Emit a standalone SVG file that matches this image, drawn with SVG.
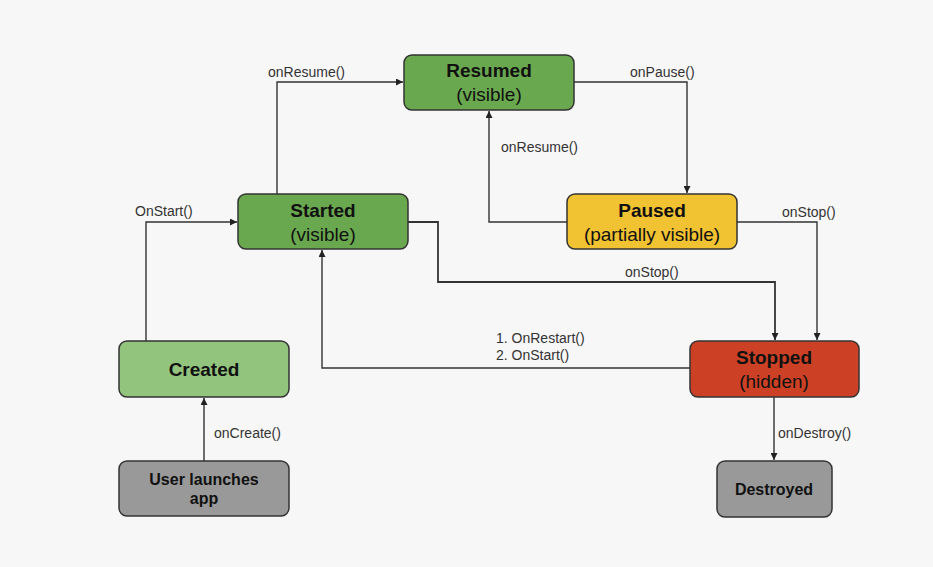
<svg xmlns="http://www.w3.org/2000/svg" width="933" height="567" viewBox="0 0 933 567">
<defs>
<marker id="arr" viewBox="0 0 10 10" refX="10" refY="5" markerWidth="7" markerHeight="7" markerUnits="userSpaceOnUse" orient="auto">
<path d="M0,0 L10,5 L0,10 z" fill="#222"/>
</marker>
<style>
.node{stroke:#333;stroke-width:1.5}
.t{font-family:"Liberation Sans",Arial,sans-serif;font-size:19px;fill:#111;text-anchor:middle}
.b{font-weight:bold}
.s{font-size:16px}
.lbl{font-family:"Liberation Sans",Arial,sans-serif;font-size:14px;fill:#333}
.c{fill:none;stroke:#333;stroke-width:1.4;marker-end:url(#arr)}
</style>
</defs>
<rect width="933" height="567" fill="#f7f7f7"/>
<g id="connectors">
<path class="c" d="M277,194 V82 H403"/>
<path class="c" d="M574,82 H687 V193"/>
<path class="c" d="M567,222 H489 V111"/>
<path class="c" d="M737,222 H817 V340"/>
<path class="c" d="M407,222 H438 V282 H775 V340" style="stroke-width:1.8"/>
<path class="c" d="M690,368 H322 V250"/>
<path class="c" d="M146,341 V222 H237"/>
<path class="c" d="M204,461 V398"/>
<path class="c" d="M774,397 V460"/>
<text class="lbl" x="268" y="77">onResume()</text>
<text class="lbl" x="630" y="77">onPause()</text>
<text class="lbl" x="501" y="152">onResume()</text>
<text class="lbl" x="782" y="217">onStop()</text>
<text class="lbl" x="625" y="277">onStop()</text>
<text class="lbl" x="496" y="343">1. OnRestart()</text>
<text class="lbl" x="496" y="360">2. OnStart()</text>
<text class="lbl" x="135" y="216">OnStart()</text>
<text class="lbl" x="214" y="438">onCreate()</text>
<text class="lbl" x="778" y="438">onDestroy()</text>
</g>
<g id="resumed">
<rect class="node" x="404" y="55" width="170" height="55" rx="8" fill="#6aa84f"/>
<text class="t b" x="489" y="77">Resumed</text>
<text class="t" x="489" y="101">(visible)</text>
</g>
<g id="started">
<rect class="node" x="238" y="194" width="170" height="55" rx="8" fill="#6aa84f"/>
<text class="t b" x="323" y="217">Started</text>
<text class="t" x="323" y="241">(visible)</text>
</g>
<g id="paused">
<rect class="node" x="567" y="194" width="170" height="55" rx="8" fill="#f1c232"/>
<text class="t b" x="652" y="217">Paused</text>
<text class="t" x="652" y="241">(partially visible)</text>
</g>
<g id="stopped">
<rect class="node" x="690" y="341" width="169" height="56" rx="8" fill="#cc4125"/>
<text class="t b" x="774" y="364">Stopped</text>
<text class="t" x="774" y="388">(hidden)</text>
</g>
<g id="created">
<rect class="node" x="119" y="341" width="170" height="56" rx="8" fill="#93c47d"/>
<text class="t b" x="204" y="376">Created</text>
</g>
<g id="launch">
<rect class="node" x="119" y="461" width="170" height="55" rx="8" fill="#999999"/>
<text class="t b s" x="204" y="485">User launches</text>
<text class="t b s" x="204" y="504">app</text>
</g>
<g id="destroyed">
<rect class="node" x="717" y="461" width="115" height="56" rx="8" fill="#999999"/>
<text class="t b s" x="774" y="495">Destroyed</text>
</g>
</svg>
